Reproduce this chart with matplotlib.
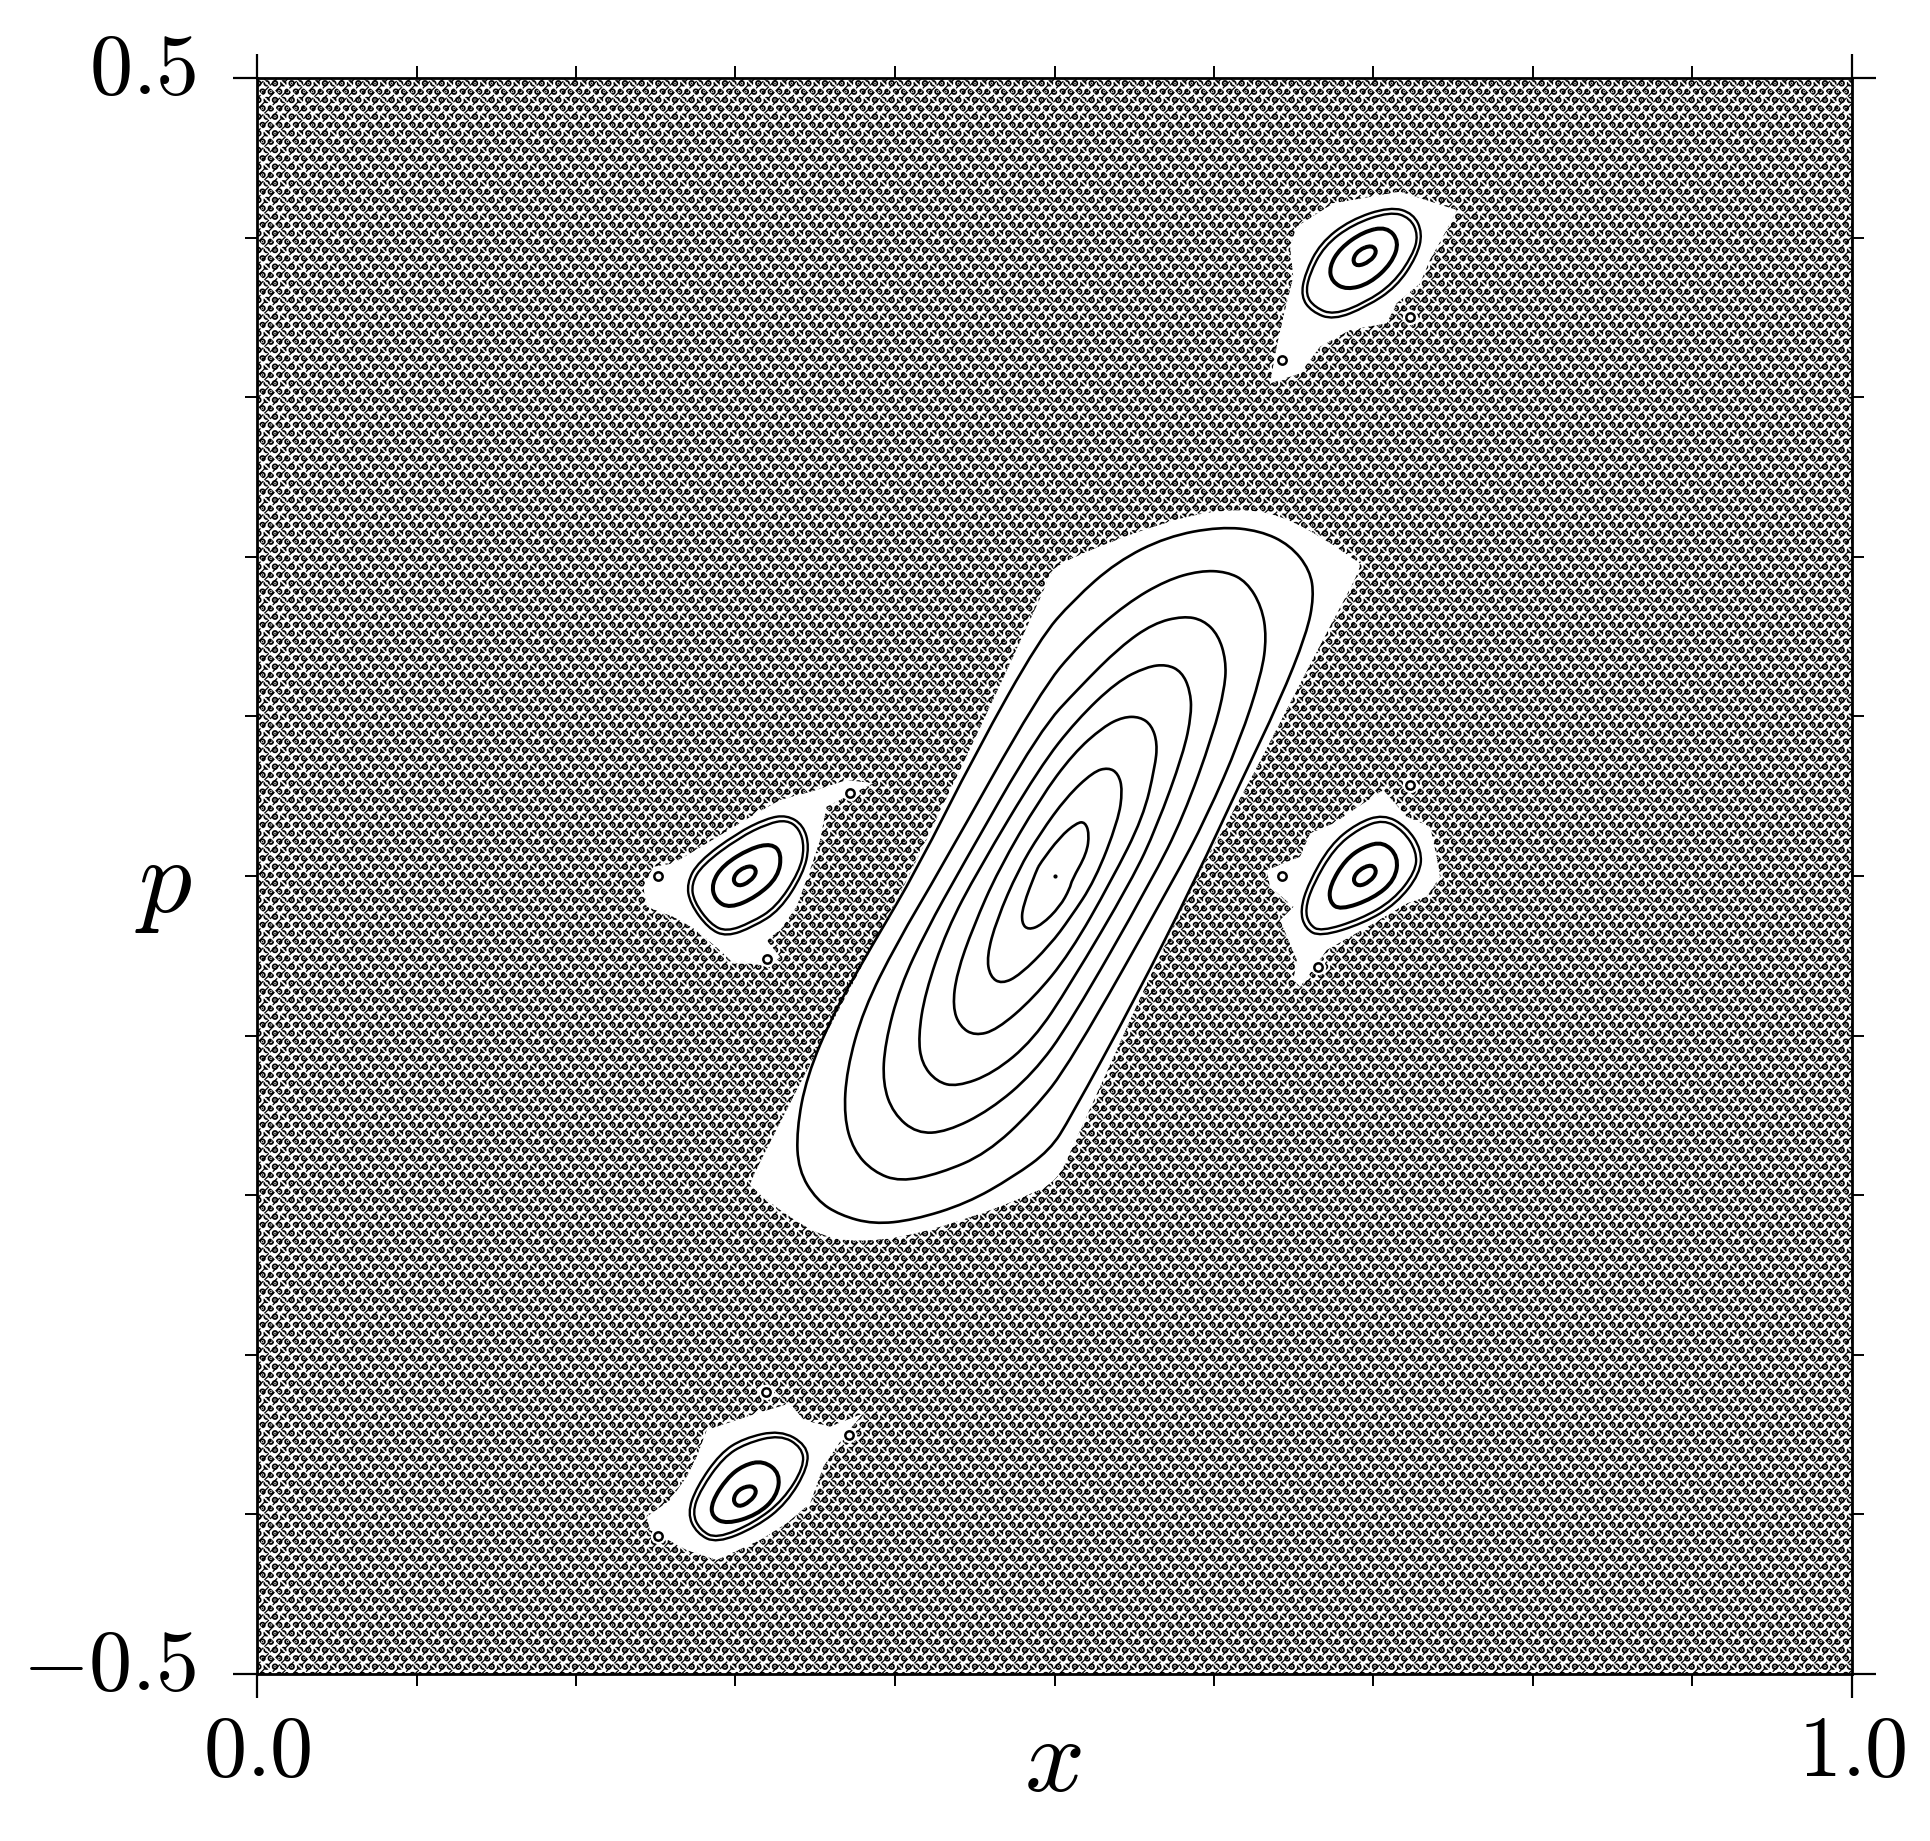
import numpy as np
import matplotlib
matplotlib.use("Agg")
from matplotlib import pyplot as plt
from matplotlib.path import Path
from matplotlib.patches import PathPatch, Polygon, Rectangle
from matplotlib.transforms import ScaledTranslation

plt.rcParams["mathtext.fontset"] = "cm"

# regular island, boundary of the white area (the two tips are listed twice to keep them sharp)
edge_x = [.4909, .4972, .5034, .5327, .5641, .5954, .6247, .6456, .6686, .6915, .6915, .6905, .6748, .6497, .6163, .5870, .5097, .5014, .4867, .4491, .4073, .3760, .3551, .3300, .3091, .3091, .3112, .3362, .3634, .4094]
edge_p = [.1729, .1896, .1959, .2084, .2199, .2283, .2297, .2241, .2116, .1959, .1959, .1896, .1604, .1123, .0475, -.0027, -.1739, -.1906, -.1989, -.2136, -.2261, -.2292, -.2261, -.2115, -.1937, -.1937, -.1874, -.1383, -.0861, -.0004]

# invariant curves of the central island, outermost first
c1_x = [.4909, .5118, .5390, .5703, .6038, .6288, .6477, .6602, .6627, .6581, .6414, .6163, .5891, .5500, .5097, .4972, .4742, .4449, .4115, .3864, .3655, .3509, .3394, .3383, .3446, .3613, .3864, .4136, .4510]
c1_p = [.1489, .1729, .1969, .2126, .2189, .2164, .2074, .1917, .1750, .1520, .1102, .0579, -.0006, -.0780, -.1519, -.1718, -.1885, -.2052, -.2156, -.2182, -.2125, -.2031, -.1843, -.1592, -.1258, -.0861, -.0422, .0038, .0780]
c2_x = [.4909, .5160, .5452, .5703, .5912, .6079, .6205, .6299, .6330, .6299, .6163, .5954, .5745, .5097, .4867, .4575, .4282, .4031, .3864, .3739, .3680, .3697, .3801, .4010, .4282]
c2_p = [.1154, .1457, .1708, .1854, .1913, .1907, .1844, .1687, .1499, .1269, .0851, .0371, -.0027, -.1174, -.1467, -.1739, -.1864, -.1916, -.1853, -.1718, -.1509, -.1216, -.0840, -.0422, .0038]
c3_x = [.4909, .5160, .5411, .5620, .5808, .5933, .6027, .6075, .6069, .5996, .5808, .5609, .5097, .4867, .4596, .4324, .4136, .3989, .3923, .3937, .4031, .4198, .4407]
c3_p = [.0914, .1186, .1436, .1583, .1629, .1604, .1510, .1353, .1186, .0893, .0371, -.0027, -.0923, -.1237, -.1467, -.1603, -.1613, -.1488, -.1300, -.1049, -.0694, -.0338, .0038]
c4_x = [.4909, .5139, .5390, .5578, .5703, .5797, .5850, .5860, .5808, .5641, .5484, .5097, .4867, .4616, .4387, .4261, .4167, .4146, .4188, .4324, .4522]
c4_p = [.0684, .0977, .1217, .1311, .1326, .1280, .1165, .1018, .0768, .0308, -.0027, -.0683, -.1028, -.1237, -.1321, -.1289, -.1174, -.1007, -.0735, -.0338, .0038]
c5_x = [.4909, .5118, .5306, .5431, .5536, .5609, .5645, .5630, .5557, .5358, .5097, .4867, .4637, .4501, .4407, .4361, .4387, .4491, .4648]
c5_p = [.0485, .0768, .0935, .0997, .0997, .0945, .0830, .0684, .0370, -.0027, -.0485, -.0767, -.0965, -.1001, -.0944, -.0819, -.0610, -.0317, .0038]
c6_x = [.4909, .5076, .5243, .5337, .5400, .5427, .5400, .5254, .5097, .4972, .4784, .4669, .4596, .4575, .4637, .4773]
c6_p = [.0266, .0496, .0653, .0680, .0642, .0538, .0350, -.0027, -.0265, -.0432, -.0620, -.0677, -.0631, -.0505, -.0276, .0038]
c7_x = [.4909, .5034, .5139, .5191, .5218, .5202, .5108, .5097, .5034, .4919, .4836, .4794, .4800, .4888]
c7_p = [.0078, .0245, .0333, .0339, .0266, .0141, -.0027, -.0077, -.0192, -.0307, -.0338, -.0296, -.0192, .0038]
centre_x = [.5003]
centre_p = [.0001]

# top right island
tr_a_x = [.7104, .7250, .7308, .7271, .7145, .6957, .6748, .6612, .6545, .6571, .6665, .6853]
tr_a_p = [.4194, .4152, .4027, .3881, .3692, .3567, .3483, .3536, .3630, .3776, .3964, .4111]
tr_b_x = [.7104, .7229, .7281, .7246, .7124, .6947, .6748, .6633, .6575, .6596, .6690, .6869]
tr_b_p = [.4163, .4125, .4016, .3891, .3713, .3592, .3515, .3563, .3640, .3766, .3947, .4083]
tr_c_x = [.7083, .7162, .7114, .6978, .6832, .6738, .6723, .6790, .6936]
tr_c_p = [.4069, .3975, .3839, .3713, .3672, .3724, .3818, .3933, .4037]
tr_d_x = [.6989, .7024, .6978, .6895, .6867, .6905]
tr_d_p = [.3954, .3912, .3849, .3818, .3860, .3922]
tr_clear_x = [.6518, .6748, .7166, .7522, .7459, .7354, .7292, .7145, .7083, .6853, .6665, .6539, .6351, .6393, .6435, .6497, .6477]
tr_clear_p = [.4069, .4215, .4288, .4173, .4048, .3860, .3713, .3588, .3463, .3421, .3316, .3149, .3086, .3316, .3504, .3755, .3943]

# left island
l_a_x = [.3321, .3425, .3463, .3425, .3279, .3112, .2944, .2829, .2715, .2694, .2767, .3007, .3195]
l_a_p = [.0382, .0319, .0184, .0016, -.0214, -.0318, -.0381, -.0328, -.0172, -.0046, .0090, .0267, .0361]
l_b_x = [.3321, .3400, .3433, .3400, .3254, .3095, .2944, .2844, .2740, .2723, .2792, .3022, .3206]
l_b_p = [.0351, .0298, .0179, .0027, -.0197, -.0293, -.0349, -.0303, -.0161, -.0050, .0069, .0240, .0330]
l_c_x = [.3227, .3289, .3268, .3132, .2965, .2871, .2850, .2923, .3091]
l_c_p = [.0204, .0142, -.0005, -.0130, -.0203, -.0151, -.0046, .0069, .0173]
l_d_x = [.3101, .3137, .3091, .3018, .2980, .3018]
l_d_p = [.0069, .0027, -.0036, -.0067, -.0025, .0037]
l_clear_x = [.2610, .2819, .3112, .3279, .3509, .3697, .3864, .3780, .3571, .3530, .3467, .3383, .3279, .3195, .3279, .3216, .3091, .2986, .2924, .2756, .2610, .2443, .2422, .2485]
l_clear_p = [.0079, .0204, .0382, .0476, .0539, .0602, .0581, .0539, .0434, .0225, .0037, -.0193, -.0339, -.0402, -.0506, -.0569, -.0548, -.0548, -.0485, -.0339, -.0256, -.0193, -.0067, .0058]

# right island
r_a_x = [.7062, .7208, .7302, .7292, .7146, .6937, .6665, .6571, .6540, .6592, .6728, .6895]
r_a_p = [.0388, .0309, .0163, .0016, -.0172, -.0297, -.0381, -.0328, -.0214, -.0046, .0194, .0330]
r_b_x = [.7062, .7187, .7271, .7263, .7125, .6920, .6669, .6596, .6571, .6619, .6753, .6912]
r_b_p = [.0355, .0284, .0152, .0027, -.0151, -.0270, -.0349, -.0303, -.0209, -.0057, .0173, .0299]
r_c_x = [.7062, .7156, .7135, .7000, .6790, .6723, .6728, .6822, .6937]
r_c_p = [.0215, .0121, -.0025, -.0140, -.0214, -.0161, -.0057, .0100, .0184]
r_d_x = [.6989, .7024, .6978, .6905, .6868, .6905]
r_d_p = [.0075, .0027, -.0036, -.0067, -.0025, .0037]
r_clear_x = [.6602, .6749, .7062, .7208, .7355, .7396, .7417, .7334, .7208, .7000, .6853, .6707, .6540, .6498, .6519, .6414, .6498, .6351, .6331, .6540]
r_clear_p = [.0267, .0330, .0539, .0372, .0309, .0121, -.0005, -.0130, -.0172, -.0297, -.0381, -.0464, -.0694, -.0652, -.0527, -.0276, -.0193, -.0067, .0037, .0121]

# bottom island
b_a_x = [.3280, .3447, .3457, .3321, .3133, .2882, .2757, .2698, .2757, .2903, .3050]
b_a_p = [-.3471, -.3565, -.3701, -.3931, -.4077, -.4182, -.4119, -.3994, -.3827, -.3618, -.3523]
b_b_x = [.3280, .3417, .3430, .3300, .3116, .2882, .2778, .2728, .2782, .2924, .3064]
b_b_p = [-.3500, -.3580, -.3701, -.3910, -.4052, -.4153, -.4098, -.3990, -.3843, -.3643, -.3555]
b_c_x = [.3175, .3280, .3259, .3133, .2945, .2851, .2851, .2945, .3050]
b_c_p = [-.3663, -.3743, -.3889, -.4004, -.4061, -.4015, -.3921, -.3774, -.3691]
b_d_x = [.3102, .3137, .3091, .3018, .2981, .3018]
b_d_p = [-.3816, -.3858, -.3921, -.3956, -.3910, -.3843]
b_clear_x = [.2820, .3133, .3342, .3426, .3593, .3802, .3677, .3551, .3468, .3321, .3154, .2882, .2694, .2464, .2443, .2590, .2694, .2757]
b_clear_p = [-.3471, -.3367, -.3304, -.3409, -.3450, -.3367, -.3513, -.3701, -.3931, -.4056, -.4161, -.4286, -.4224, -.4098, -.4015, -.3910, -.3764, -.3638]

# little satellite chains round the four islands
sat_x = [.6424, .7229, .3718, .2516, .3195, .7229, .6429, .6654, .3192, .3714, .2517]
sat_p = [.3233, .3504, .0522, .0000, -.0517, .0570, .0000, -.0569, -.3231, -.3503, -.4134]

x_major = [0.0, 1.0]
x_minor = [.1, .2, .3, .4, .5, .6, .7, .8, .9]
p_major = [-0.5, 0.5]
p_minor = [-.4, -.3, -.2, -.1, 0.0, .1, .2, .3, .4]


def ring_path(xs, ps):
    ctrl = np.column_stack([xs, ps])
    mids = (ctrl + np.roll(ctrl, -1, axis=0)) / 2
    verts = [mids[-1]]
    codes = [Path.MOVETO]
    for c, m in zip(ctrl, mids):
        verts += [c, m]
        codes += [Path.CURVE3, Path.CURVE3]
    return Path(verts, codes)


def draw_ring(ax, xs, ps, lw):
    ax.add_patch(PathPatch(ring_path(xs, ps), fill=False, ec="black", lw=lw, zorder=4))


def sea_layer(ax, hatch, color, lw, z):
    layer = Rectangle((0, -0.5), 1, 1, fill=False, ec=color, lw=0, hatch=hatch, zorder=z)
    layer.set_hatch_linewidth(lw)
    ax.add_patch(layer)


fig = plt.figure(figsize=(19.31, 18.41), dpi=100)
ax = fig.add_axes([257 / 1931, 167 / 1841, 1595 / 1931, 1596 / 1841])
ax.set_xlim(0, 1)
ax.set_ylim(-0.5, 0.5)

# chaotic sea, a texture standing in for the orbit points
sea_layer(ax, "..", "black", 3.4, 1.0)
sea_layer(ax, "///", "black", 0.9, 1.1)
sea_layer(ax, "\\\\", "white", 1.1, 1.2)

ax.add_patch(PathPatch(ring_path(edge_x, edge_p), fc="white", ec="none", zorder=2))
for cx, cp in [(tr_clear_x, tr_clear_p), (l_clear_x, l_clear_p), (r_clear_x, r_clear_p), (b_clear_x, b_clear_p)]:
    ax.add_patch(Polygon(np.column_stack([cx, cp]), fc="white", ec="none", zorder=2))

for cx, cp in [(c1_x, c1_p), (c2_x, c2_p), (c3_x, c3_p), (c4_x, c4_p), (c5_x, c5_p), (c6_x, c6_p), (c7_x, c7_p)]:
    draw_ring(ax, cx, cp, 1.9)
ax.plot(centre_x, centre_p, ls="none", marker="o", ms=2, color="black", zorder=4)

for cx, cp in [(tr_a_x, tr_a_p), (tr_b_x, tr_b_p), (l_a_x, l_a_p), (l_b_x, l_b_p), (r_a_x, r_a_p), (r_b_x, r_b_p), (b_a_x, b_a_p), (b_b_x, b_b_p)]:
    draw_ring(ax, cx, cp, 1.7)
for cx, cp in [(tr_c_x, tr_c_p), (l_c_x, l_c_p), (r_c_x, r_c_p), (b_c_x, b_c_p), (tr_d_x, tr_d_p), (l_d_x, l_d_p), (r_d_x, r_d_p), (b_d_x, b_d_p)]:
    draw_ring(ax, cx, cp, 2.9)

ax.plot(sat_x, sat_p, ls="none", marker="o", ms=10, color="white", zorder=3)
ax.plot(sat_x, sat_p, ls="none", marker="o", ms=6, mfc="white", mec="black", mew=1.8, zorder=4)

for s in ax.spines.values():
    s.set_linewidth(2.0)
    s.set_zorder(6)

ax.set_xticks(x_major)
ax.set_xticks(x_minor, minor=True)
ax.set_yticks(p_major)
ax.set_yticks(p_minor, minor=True)
ax.set_xticklabels([r"$0.0$", r"$1.0$"], fontsize=62)
ax.set_yticklabels([r"$-0.5$", r"$0.5$"], fontsize=62)
ax.tick_params(which="major", direction="out", length=17.3, width=1.6, top=True, right=True)
ax.tick_params(which="minor", direction="out", length=8.6, width=1.4, top=True, right=True)
ax.tick_params(axis="x", which="major", pad=9)
ax.tick_params(axis="y", which="major", pad=26.6)
for lbl in ax.get_yticklabels():
    lbl.set_transform(lbl.get_transform() + ScaledTranslation(0, 12 / 72, fig.dpi_scale_trans))

ax.text(1053 / 1931, 1 - 1762 / 1841, r"$x$", fontsize=76, ha="center", va="center", transform=fig.transFigure)
ax.text(164 / 1931, 1 - 884 / 1841, r"$p$", fontsize=76, ha="center", va="center", transform=fig.transFigure)

fig.savefig("out.png", dpi=100, facecolor="white")
